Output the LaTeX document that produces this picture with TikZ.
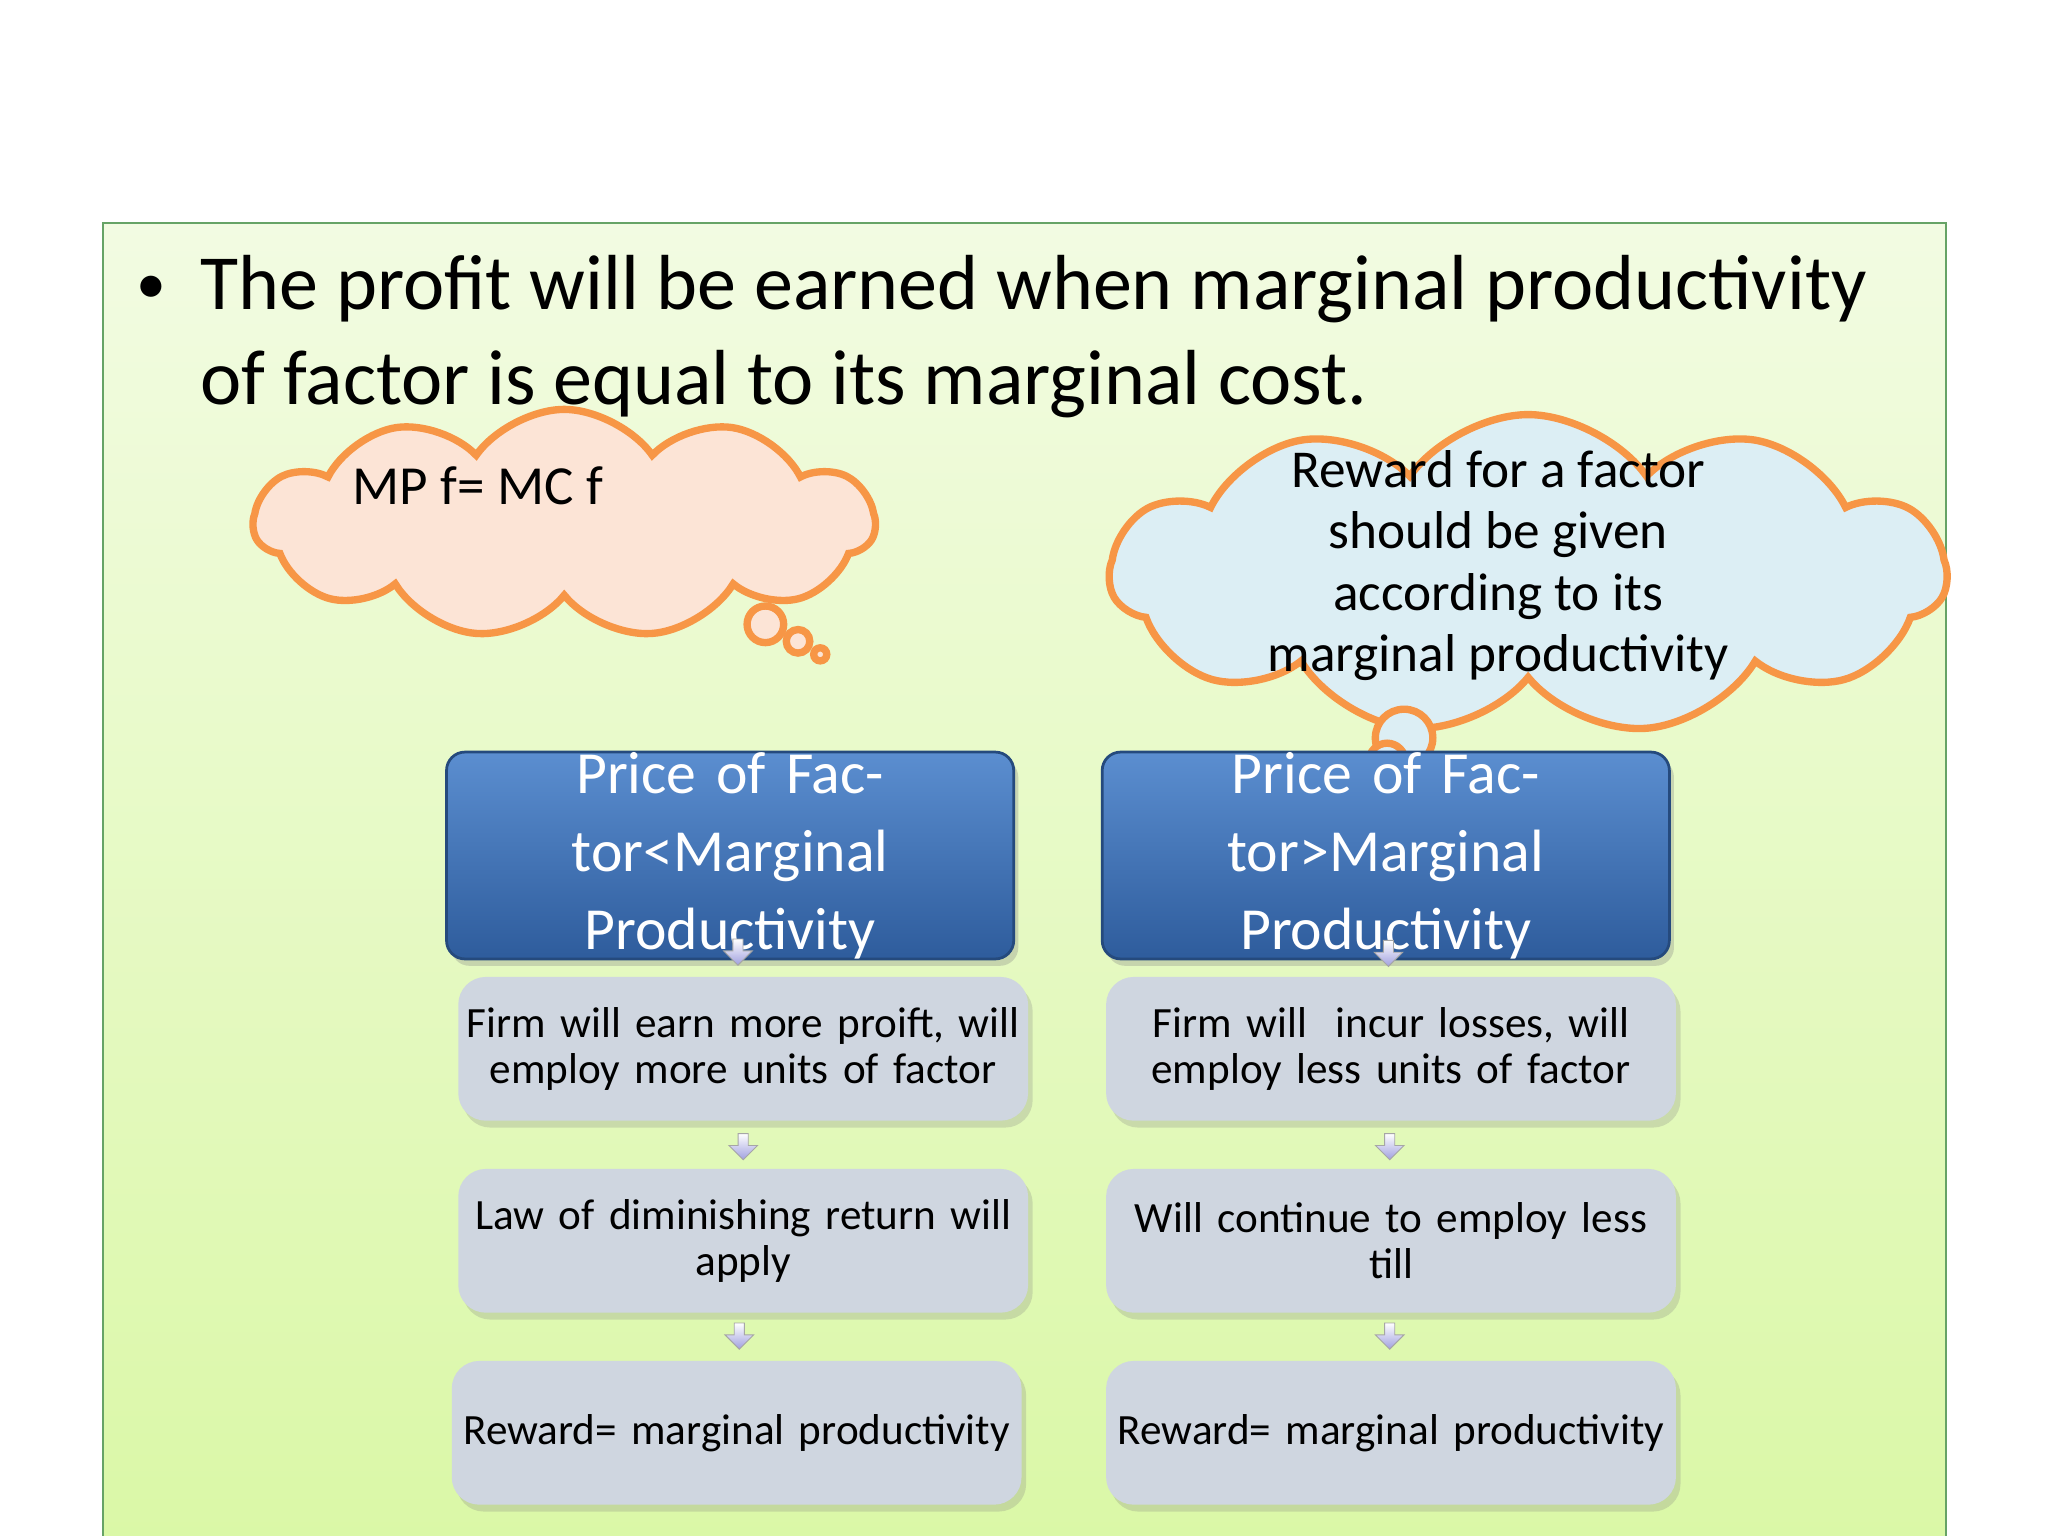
\documentclass[tikz,border=0pt]{standalone}
\usepackage{fontspec}
\setmainfont{Carlito}
\usetikzlibrary{shapes.symbols,shapes.arrows,shadows}
\definecolor{orng}{HTML}{F79646}
\definecolor{peach}{HTML}{FCE4D6}
\definecolor{lblue}{HTML}{DCEEF4}
\definecolor{gbox}{HTML}{CFD6E0}
\definecolor{btop}{HTML}{5B8ED0}
\definecolor{bbot}{HTML}{2E5C9C}
\definecolor{gtop}{HTML}{F2FBE2}
\definecolor{gbot}{HTML}{DAF8A6}
\begin{document}
\begin{tikzpicture}[x=0.01cm,y=-0.01cm,
  cloudy/.style={cloud, cloud puffs=11, cloud puff arc=110, aspect=2.6, draw=orng, line width=1.6pt},
  bubble/.style={circle, draw=orng, line width=1.6pt, inner sep=0pt},
  bluebox/.style={rounded corners=4pt, top color=btop, bottom color=bbot, draw=bbot!80!black, line width=0.6pt, text=white, font=\fontsize{13}{17}\selectfont, align=center, inner sep=0pt, text width=4.3cm, minimum width=4.34cm, minimum height=1.09cm, drop shadow={opacity=0.3, shadow xshift=1pt, shadow yshift=-1.5pt}},
  graybox/.style={rounded corners=6pt, fill=gbox, font=\fontsize{9.4}{10}\selectfont, align=center, inner sep=0pt, text width=4.3cm, minimum width=4.36cm, minimum height=1.1cm, drop shadow={opacity=0.25, shadow xshift=1pt, shadow yshift=-1.5pt}},
  darrow/.style={single arrow, single arrow head extend=2pt, shape border rotate=270, minimum height=0.2cm, minimum width=0.2cm, inner sep=1pt, top color=white, bottom color=gray!50!blue!50, draw=gray!70, line width=0.2pt}]
\useasboundingbox (0,0) rectangle (1568,1176);
\fill[white] (0,0) rectangle (1568,1176);
\shade[top color=gtop, bottom color=gbot, draw=green!40!black!60] (79,171) rectangle (1490,1190);
\node[anchor=base west, font=\fontsize{13}{16}\selectfont] (bul) at (92,232) {•};
\node[anchor=base west, font=\fontsize{17}{20.8}\selectfont, inner sep=0pt] (t1) at (153,237) {The profit will be earned when marginal productivity};
\node[anchor=base west, font=\fontsize{17}{20.8}\selectfont, inner sep=0pt] (t2) at (153,310) {of factor is equal to its marginal cost.};
% left cloud
\node[cloudy, fill=peach, minimum width=4.75cm, minimum height=1.75cm] (c1) at (432,401) {};
\node[bubble, fill=peach, minimum size=0.28cm] (b1) at (586,478) {};
\node[bubble, fill=peach, minimum size=0.18cm] (b2) at (611,491) {};
\node[bubble, fill=peach, minimum size=0.1cm] (b3) at (628,501) {};
\node[font=\fontsize{12}{15}\selectfont] (c1t) at (366,372) {MP f= MC f};
% right cloud
\node[cloudy, fill=lblue, minimum width=6.4cm, minimum height=2.45cm] (c2) at (1170,440) {};
\node[bubble, fill=lblue, minimum size=0.44cm] (b4) at (1075,565) {};
\node[bubble, fill=lblue, minimum size=0.28cm] (b5) at (1062,583) {};
\node[font=\fontsize{11.6}{13.4}\selectfont, align=center] (c2t) at (1147,433) {Reward for a factor\\should be given\\according to its\\marginal productivity};
% boxes
\node[bluebox] (L0) at (559,655) {Price of Factor<Marginal\\Productivity};
\node[bluebox] (R0) at (1061,655) {Price of Factor>Marginal\\Productivity};
\node[graybox] (L1) at (569,803) {Firm will earn more proift, will\\employ more units of factor};
\node[graybox] (R1) at (1065,803) {Firm will\ \ incur losses, will\\employ less units of factor};
\node[graybox] (L2) at (569,950) {Law of diminishing return will\\apply};
\node[graybox] (R2) at (1065,950) {Will continue to employ less\\till};
\node[graybox] (L3) at (564,1097) {Reward= marginal productivity};
\node[graybox] (R3) at (1065,1097) {Reward= marginal productivity};
\node[darrow] (aL1) at (565,727) {};
\node[darrow] (aL2) at (569,876) {};
\node[darrow] (aL3) at (566,1021) {};
\node[darrow] (aR1) at (1063,728) {};
\node[darrow] (aR2) at (1064,876) {};
\node[darrow] (aR3) at (1064,1021) {};
\end{tikzpicture}
\end{document}
